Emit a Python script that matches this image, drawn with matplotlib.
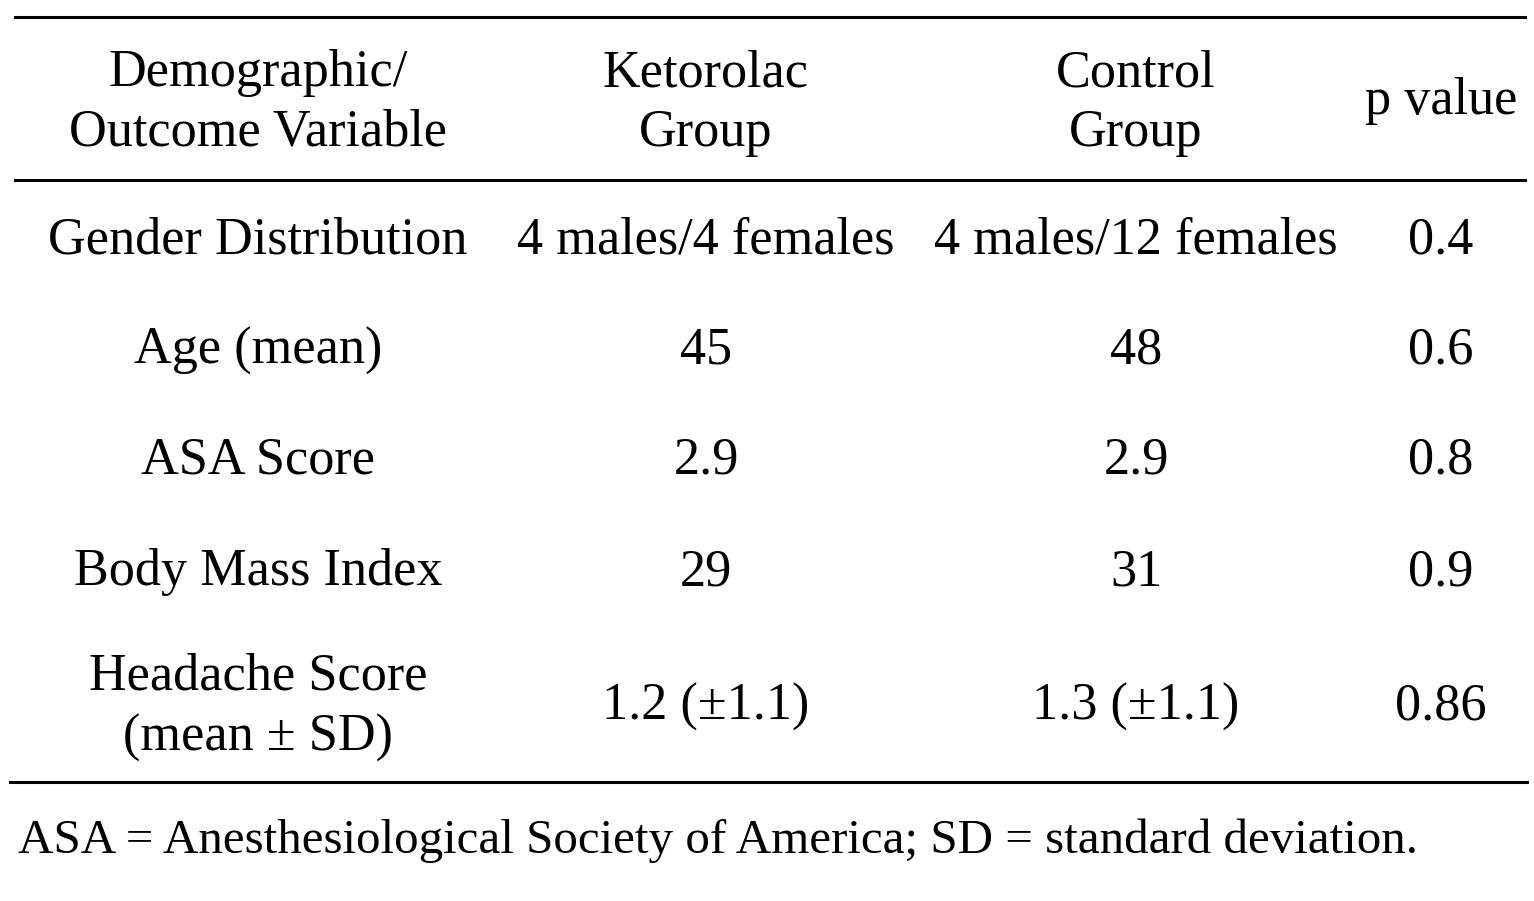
import matplotlib.pyplot as plt

# table content
header_col1 = ["Demographic/", "Outcome Variable"]
header_col2 = ["Ketorolac", "Group"]
header_col3 = ["Control", "Group"]
header_col4 = ["p value"]

row_labels = ["Gender Distribution", "Age (mean)", "ASA Score", "Body Mass Index",
              "Headache Score\n(mean \u00b1 SD)"]
ketorolac = ["4 males/4 females", "45", "2.9", "29", "1.2 (\u00b11.1)"]
control = ["4 males/12 females", "48", "2.9", "31", "1.3 (\u00b11.1)"]
p_values = ["0.4", "0.6", "0.8", "0.9", "0.86"]

footnote = "ASA = Anesthesiological Society of America; SD = standard deviation."

W, H = 1534, 901
fig = plt.figure(figsize=(W / 100, H / 100), dpi=100)
ax = fig.add_axes([0, 0, 1, 1])
ax.set_xlim(0, W)
ax.set_ylim(H, 0)
ax.axis("off")

plt.rcParams["font.family"] = "Liberation Serif"
fs = 37.6
col_x = [258, 706, 1136, 1441]

# rules
ax.plot([15, 1525], [17, 17], color="black", lw=2.2)
ax.plot([15, 1525], [180, 180], color="black", lw=2.2)
ax.plot([10, 1527], [782, 782], color="black", lw=2.2)

# header
ax.text(col_x[0], 103, "\n".join(header_col1), ha="center", va="center", fontsize=fs, linespacing=1.32)
ax.text(col_x[1], 103, "\n".join(header_col2), ha="center", va="center", fontsize=fs, linespacing=1.32)
ax.text(col_x[2], 103, "\n".join(header_col3), ha="center", va="center", fontsize=fs, linespacing=1.32)
ax.text(col_x[3], 101, "\n".join(header_col4), ha="center", va="center", fontsize=fs)

row_y = [240, 351, 461, 572, 707]
for i, y in enumerate(row_y):
    ax.text(col_x[0], y, row_labels[i], ha="center", va="center", fontsize=fs, linespacing=1.37)
    ax.text(col_x[1], y, ketorolac[i], ha="center", va="center", fontsize=fs)
    ax.text(col_x[2], y, control[i], ha="center", va="center", fontsize=fs)
    ax.text(col_x[3], y, p_values[i], ha="center", va="center", fontsize=fs)

ax.text(18, 841, footnote, ha="left", va="center", fontsize=35.3)

fig.savefig("out.png", dpi=100)
